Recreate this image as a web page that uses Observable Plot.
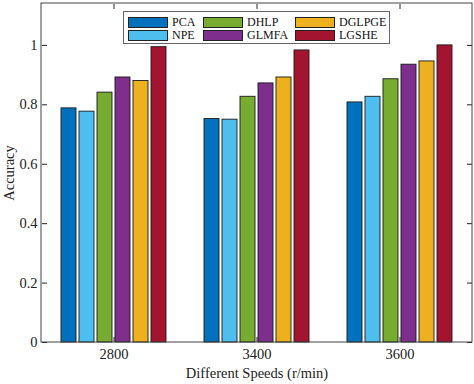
<!DOCTYPE html>
<html><head><meta charset="utf-8">
<script src="https://cdn.jsdelivr.net/npm/d3@7"></script>
<script src="https://cdn.jsdelivr.net/npm/@observablehq/plot@0.6"></script>
<style>
body{margin:0;background:#fff;}
#wrap{position:relative;width:474px;height:384px;font-family:"Liberation Serif","Times New Roman",serif;}
#legend{position:absolute;left:123px;top:11px;width:265px;height:31px;border:1px solid #666;background:#fff;box-sizing:content-box;}
.item{position:absolute;display:flex;align-items:center;font-size:12px;color:#111;height:12px;}
.sw{width:38px;height:9px;border:1px solid #222;margin-right:4px;}
</style>
</head><body>
<div id="wrap"><div id="chart"></div><div id="legend"></div></div>
<script>
const speeds = ["2800", "3400", "3600"];
const methods = ["PCA", "NPE", "DHLP", "GLMFA", "DGLPGE", "LGSHE"];
const colors = ["#0072BD", "#4DBEEE", "#77AC30", "#7E2F8E", "#EDB120", "#A2142F"];
const acc2800 = [0.788, 0.777, 0.841, 0.892, 0.880, 0.994];
const acc3400 = [0.752, 0.750, 0.827, 0.872, 0.892, 0.983];
const acc3600 = [0.808, 0.827, 0.886, 0.935, 0.946, 1.000];
const yTicks = [0, 0.2, 0.4, 0.6, 0.8, 1];

const rows = [];
[acc2800, acc3400, acc3600].forEach((arr, gi) =>
  arr.forEach((v, mi) => rows.push({speed: speeds[gi], method: methods[mi], acc: v})));

const chart = Plot.plot({
  width: 474, height: 384,
  marginLeft: 41, marginRight: 2, marginTop: 3, marginBottom: 42,
  style: {fontFamily: "Liberation Serif, Times New Roman, serif", fontSize: "14.5px", color: "#222", background: "#fff"},
  fx: {domain: speeds, padding: 0},
  x: {domain: methods, paddingInner: 0.16, paddingOuter: 0.86, axis: null},
  y: {domain: [0, 1.141]},
  color: {domain: methods, range: colors},
  marks: [
    Plot.barY(rows, {fx: "speed", x: "method", y: "acc", fill: "method", stroke: "#1a1a1a", strokeWidth: 0.9}),
    Plot.axisY({ticks: yTicks, tickSize: -5, tickPadding: 10, tickFormat: d => String(d),
      label: "Accuracy", labelAnchor: "center", labelArrow: "none", labelOffset: 39}),
    Plot.axisY({anchor: "right", ticks: yTicks, tickSize: -5, tickFormat: () => "", label: null}),
    Plot.axisFx({anchor: "bottom", tickSize: -5, tickPadding: 11, label: "Different Speeds (r/min)",
      labelAnchor: "center", labelArrow: "none", labelOffset: 35}),
    Plot.axisFx({anchor: "top", tickSize: -5, tickFormat: () => "", label: null})
  ]
});
document.getElementById("chart").appendChild(chart);

// box frame from the library's scales
const fxR = chart.scale("fx").range, yR = chart.scale("y").range;
d3.select(chart).append("rect")
  .attr("x", Math.min(...fxR)).attr("y", Math.min(...yR))
  .attr("width", Math.abs(fxR[1] - fxR[0])).attr("height", Math.abs(yR[1] - yR[0]))
  .attr("fill", "none").attr("stroke", "#444").attr("stroke-width", 1);

// legend
const lg = document.getElementById("legend");
const colX = [4, 79, 171], rowY = [4, 17];
methods.forEach((m, i) => {
  const col = Math.floor(i / 2), row = i % 2;
  const it = document.createElement("div");
  it.className = "item";
  it.style.left = colX[col] + "px"; it.style.top = rowY[row] + "px";
  it.innerHTML = `<div class="sw" style="background:${colors[i]}"></div><span>${m}</span>`;
  lg.appendChild(it);
});
</script>
</body></html>
